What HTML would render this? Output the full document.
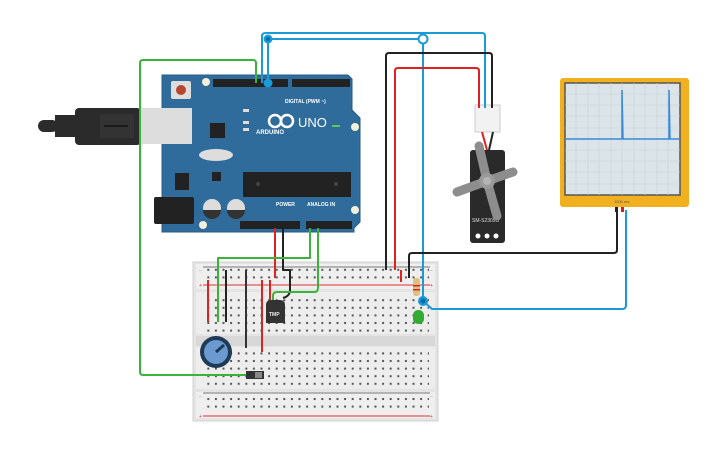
<!DOCTYPE html>
<html><head><meta charset="utf-8"><style>
html,body{margin:0;padding:0;background:#fff;width:725px;height:453px;overflow:hidden}
svg{display:block;font-family:"Liberation Sans",sans-serif}
</style></head><body>
<svg width="725" height="453" viewBox="0 0 725 453" xmlns="http://www.w3.org/2000/svg">
<defs>
<pattern id="dots" x="204.5" y="0" width="7.6" height="7.6" patternUnits="userSpaceOnUse">
<rect x="2.8" y="2.8" width="2" height="2" fill="#555"/>
</pattern>
</defs>

<!-- Breadboard -->
<rect x="193" y="262" width="245" height="159" fill="#e4e4e4" stroke="#d0d0d0"/>
<rect x="196" y="264" width="239" height="25" fill="#efefef"/>
<rect x="196" y="292" width="239" height="42" fill="#ededed"/>
<rect x="196" y="347" width="239" height="42" fill="#ededed"/>
<rect x="196" y="392" width="239" height="26" fill="#efefef"/>
<rect x="196" y="336" width="239" height="10" fill="#d8d8d8"/>
<line x1="203" y1="267" x2="430" y2="267" stroke="#777" stroke-width="1"/>
<line x1="203" y1="285" x2="430" y2="285" stroke="#d33" stroke-width="1"/>
<line x1="203" y1="393" x2="430" y2="393" stroke="#777" stroke-width="1"/>
<line x1="203" y1="416" x2="430" y2="416" stroke="#d33" stroke-width="1"/>
<rect x="205" y="268" width="224" height="15" fill="url(#dots)"/>
<rect x="205" y="296" width="224" height="38" fill="url(#dots)"/>
<rect x="205" y="349" width="224" height="38" fill="url(#dots)"/>
<rect x="205" y="397" width="224" height="15" fill="url(#dots)"/>
<g font-size="5" fill="#888">
<text x="199" y="272">−</text><text x="199" y="287" fill="#d33">+</text>
<text x="430" y="272">−</text><text x="430" y="287" fill="#d33">+</text>
<text x="199" y="398">−</text><text x="199" y="418" fill="#d33">+</text>
<text x="430" y="398">−</text><text x="430" y="418" fill="#d33">+</text>
</g>

<!-- Arduino -->
<path d="M162 75 H348 L352 79 V110 L360 118 V222 L354 228 V232 H162 Z" fill="#2f6c9b" stroke="#275d87"/>
<rect x="213" y="79" width="75" height="8" fill="#222"/>
<rect x="292" y="79" width="58" height="8" fill="#222"/>
<rect x="240" y="221" width="60" height="8" fill="#222"/>
<rect x="306" y="221" width="46" height="8" fill="#222"/>
<circle cx="206" cy="82" r="4" fill="#f5f0d8"/>
<circle cx="355" cy="127" r="4" fill="#f5f0d8"/>
<circle cx="355" cy="210" r="4" fill="#f5f0d8"/>
<circle cx="203" cy="225" r="4" fill="#f5f0d8"/>
<rect x="171" y="81" width="20" height="18" rx="2" fill="#ddd"/>
<circle cx="181" cy="90" r="5" fill="#b5452c"/>
<rect x="140" y="108" width="52" height="36" fill="#ddd"/>
<rect x="210" y="123" width="15" height="15" fill="#222"/>
<ellipse cx="216" cy="155" rx="17" ry="6" fill="#ddd"/>
<rect x="175" y="173" width="14" height="17" fill="#222"/>
<rect x="212" y="172" width="9" height="9" fill="#222"/>
<rect x="243" y="172" width="108" height="25" fill="#222"/>
<circle cx="258" cy="184" r="2" fill="#444"/><circle cx="336" cy="184" r="2" fill="#444"/>
<rect x="154" y="197" width="40" height="27" rx="2" fill="#222"/>
<circle cx="212" cy="208" r="9" fill="#ddd"/><path d="M203 210 A9 9 0 0 0 221 210 Z" fill="#333"/>
<circle cx="236" cy="208" r="9" fill="#ddd"/><path d="M227 210 A9 9 0 0 0 245 210 Z" fill="#333"/>
<circle cx="275" cy="121" r="6" fill="none" stroke="#fff" stroke-width="2.5"/>
<circle cx="287" cy="121" r="6" fill="none" stroke="#fff" stroke-width="2.5"/>
<text x="256" y="134" font-size="6" font-weight="bold" fill="#fff">ARDUINO</text>
<text x="298" y="127" font-size="13" fill="#fff">UNO</text>
<text x="285" y="103" font-size="5" font-weight="bold" fill="#fff">DIGITAL (PWM ~)</text>
<text x="276" y="206" font-size="5" font-weight="bold" fill="#fff">POWER</text>
<text x="307" y="206" font-size="5" font-weight="bold" fill="#fff">ANALOG IN</text>
<rect x="332" y="125" width="8" height="2" fill="#5c5"/>
<rect x="243" y="109" width="6" height="3" fill="#ddd"/><rect x="243" y="121" width="6" height="3" fill="#ddd"/><rect x="243" y="128" width="6" height="3" fill="#ddd"/>

<!-- USB plug -->
<rect x="75" y="108" width="66" height="37" rx="4" fill="#2b2b2b"/>
<rect x="55" y="115" width="22" height="22" fill="#2b2b2b"/>
<rect x="38" y="120" width="20" height="12" rx="6" fill="#2b2b2b"/>
<rect x="100" y="114" width="34" height="24" fill="#333"/>
<line x1="104" y1="126" x2="128" y2="126" stroke="#111" stroke-width="1.5"/>

<!-- Servo -->
<rect x="470" y="150" width="35" height="93" rx="3" fill="#2a2a2a"/>
<circle cx="478" cy="236" r="2.5" fill="#fff"/><circle cx="487" cy="236" r="2.5" fill="#fff"/><circle cx="496" cy="236" r="2.5" fill="#fff"/>
<text x="472" y="222" font-size="5" fill="#ddd">SM-S2309S</text>
<g stroke="#8d8d8d" stroke-width="9" stroke-linecap="round">
<line x1="487" y1="181" x2="479" y2="146"/>
<line x1="487" y1="181" x2="513" y2="172"/>
<line x1="487" y1="181" x2="457" y2="192"/>
<line x1="487" y1="181" x2="497" y2="216"/>
</g>
<circle cx="487" cy="181" r="8" fill="#9a9a9a"/>
<circle cx="487" cy="181" r="4" fill="#b5b5b5"/>
<rect x="475" y="105" width="25" height="27" fill="#f2f2f2" stroke="#ccc"/>
<line x1="482" y1="132" x2="487" y2="150" stroke="#d22" stroke-width="2"/>
<line x1="493" y1="132" x2="489" y2="150" stroke="#222" stroke-width="2"/>

<!-- Oscilloscope -->
<rect x="560" y="78" width="129" height="129" rx="3" fill="#f0b020"/>
<rect x="565" y="83" width="115" height="112" fill="#dbe4e8" stroke="#555" stroke-width="1.5"/>
<g stroke="#c8d2d6" stroke-width="0.6">
<line x1="576" y1="83" x2="576" y2="195"/><line x1="588" y1="83" x2="588" y2="195"/><line x1="599" y1="83" x2="599" y2="195"/><line x1="611" y1="83" x2="611" y2="195"/><line x1="622" y1="83" x2="622" y2="195"/><line x1="634" y1="83" x2="634" y2="195"/><line x1="645" y1="83" x2="645" y2="195"/><line x1="657" y1="83" x2="657" y2="195"/><line x1="668" y1="83" x2="668" y2="195"/>
<line x1="565" y1="94" x2="680" y2="94"/><line x1="565" y1="105" x2="680" y2="105"/><line x1="565" y1="116" x2="680" y2="116"/><line x1="565" y1="128" x2="680" y2="128"/><line x1="565" y1="150" x2="680" y2="150"/><line x1="565" y1="161" x2="680" y2="161"/><line x1="565" y1="172" x2="680" y2="172"/><line x1="565" y1="184" x2="680" y2="184"/>
</g>
<polyline points="566,139 622,139 622,90 623,139 669,139 669,90 670,139 679,139" fill="none" stroke="#3a8ad8" stroke-width="1.5"/>
<text x="614" y="203" font-size="4" fill="#555">1000 ms</text>
<rect x="615" y="207" width="3" height="5" fill="#222"/><rect x="621" y="207" width="3" height="5" fill="#c22"/>

<!-- Wires -->
<g fill="none" stroke-width="2" stroke-linejoin="round">
<path d="M262 83 V36 Q262 33 266 33 H482 Q485 33 485 36 V108" stroke="#1a9ad6"/>
<path d="M268 83 V39 H423 V301 M423 301 L432 309 H622 Q626 309 626 305 V210" stroke="#1a9ad6"/>
<path d="M386 270 V56 Q386 53 389 53 H489 Q492 53 492 56 V108" stroke="#222"/>
<path d="M395 270 V71 Q395 68 398 68 H476 Q479 68 479 71 V108" stroke="#d22"/>
<path d="M409 278 V256 Q409 253 412 253 H614 Q617 253 617 250 V210" stroke="#222"/>
<path d="M256 83 V63 Q256 60 253 60 H143 Q140 60 140 63 V372 Q140 375 143 375 H256" stroke="#3bb33b"/>
<path d="M275 228 V278" stroke="#d22"/>
<path d="M283 228 V270 H290 V290 Q290 296 283 298" stroke="#222"/>
<path d="M310 228 V258 H218 V322" stroke="#3bb33b"/>
<path d="M318 228 V288 Q318 292 314 292 H277 Q273 292 273 296 V305" stroke="#3bb33b"/>
<path d="M208 280 V322" stroke="#d22"/>
<path d="M226 270 V322" stroke="#222"/>
<path d="M246 270 V348" stroke="#333"/>
<path d="M262 280 V352" stroke="#d22"/>
<path d="M270 280 V300" stroke="#d22"/>
<path d="M401 270 V282" stroke="#d22"/>
</g>
<circle cx="268" cy="39" r="4.5" fill="#1a9ad6"/><circle cx="268" cy="39" r="2" fill="#0a6aa6"/>
<circle cx="423" cy="39" r="4.5" fill="#fff" stroke="#1a9ad6" stroke-width="2"/>
<circle cx="268" cy="83" r="4.5" fill="#1a9ad6"/>
<circle cx="423" cy="301" r="5" fill="#1a9ad6"/><circle cx="423" cy="301" r="2.5" fill="#0a6aa6"/>

<!-- Resistor, LED -->
<rect x="413" y="278" width="7" height="18" rx="3" fill="#e0c080"/>
<rect x="413" y="285" width="7" height="1.5" fill="#d22"/><rect x="413" y="289" width="7" height="1.5" fill="#d22"/>
<rect x="413" y="310" width="11" height="14" rx="5" fill="#3a3"/>

<!-- TMP sensor -->
<path d="M266 305 Q266 300 271 300 H280 Q285 300 285 305 V323 H266 Z" fill="#333"/>
<text x="269" y="316" font-size="5" font-weight="bold" fill="#eee">TMP</text>

<!-- Potentiometer -->
<circle cx="216" cy="352" r="16" fill="#1f3a55"/>
<circle cx="216" cy="352" r="12" fill="#6a9ad0"/>
<line x1="216" y1="352" x2="224" y2="345" stroke="#1f3a55" stroke-width="3"/>

<!-- Slide switch -->
<rect x="246" y="371" width="18" height="8" fill="#333"/>
<rect x="255" y="372" width="7" height="6" fill="#888"/>
</svg>
</body></html>
